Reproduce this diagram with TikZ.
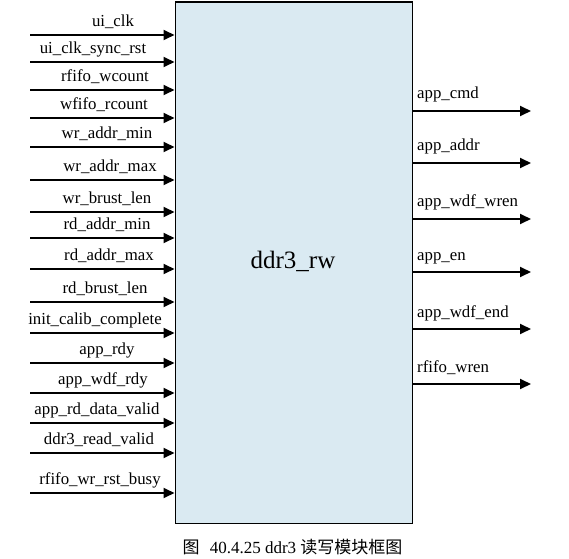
\documentclass[tikz,border=0pt]{standalone}
\usepackage{fontspec}
\setmainfont{Liberation Serif}
\newfontfamily\cjk{Noto Sans CJK SC}
\usetikzlibrary{arrows.meta}
\begin{document}
\begin{tikzpicture}[x=1bp,y=-1bp,
  sig/.style={line width=1.8bp,-{Triangle[length=11bp,width=10bp]}},
  lbl/.style={font=\fontsize{16.8bp}{18bp}\selectfont,inner sep=0pt,anchor=base},
  rlbl/.style={font=\fontsize{16.8bp}{18bp}\selectfont,inner sep=0pt,anchor=base west}]
\useasboundingbox (0,0) rectangle (569,559);
\node[draw=black,line width=1.3bp,fill={rgb,255:red,218;green,234;blue,242},minimum width=237bp,minimum height=521bp,inner sep=0pt,anchor=north west] (box) at (174.5,1.5) {};
\node[font=\fontsize{25bp}{28bp}\selectfont,inner sep=0pt,anchor=base] (title) at (293,268) {ddr3\_rw};
% left inputs
\foreach \n/\y/\cx/\t in {a/35/113/ui\_clk, b/62/93/ui\_clk\_sync\_rst, c/90/105/rfifo\_wcount, d/118/104/wfifo\_rcount, e/147/107/wr\_addr\_min, f/180/110/wr\_addr\_max, g/212/107/wr\_brust\_len, h/238/107/rd\_addr\_min, i/269/109/rd\_addr\_max, j/302/105/rd\_brust\_len, k/333/95/init\_calib\_complete, l/363/107/app\_rdy, m/393/103/app\_wdf\_rdy, n/423/97/app\_rd\_data\_valid, o/453/99/ddr3\_read\_valid, p/493/100/rfifo\_wr\_rst\_busy}{
  \coordinate (in\n) at (30,\y);
  \coordinate (to\n) at (box.west |- 0,\y);
  \draw[sig] (in\n) -- (to\n);
  \node[lbl] (l\n) at (\cx,\y-8.5) {\t};
}
% right outputs
\foreach \n/\y/\t in {a/111/app\_cmd, b/163/app\_addr, c/219/app\_wdf\_wren, d/272/app\_en, e/329/app\_wdf\_end, f/384/rfifo\_wren}{
  \coordinate (fr\n) at (box.east |- 0,\y);
  \coordinate (out\n) at (531,\y);
  \draw[sig] (fr\n) -- (out\n);
  \node[rlbl] (r\n) at (417,\y-12) {\t};
}
\node[font=\fontsize{17bp}{19bp}\selectfont,inner sep=0pt,anchor=base] (cap) at (292.5,553) {{\cjk 图}\hspace{0.6em}40.4.25 ddr3 {\cjk 读写模块框图}};
\end{tikzpicture}
\end{document}
